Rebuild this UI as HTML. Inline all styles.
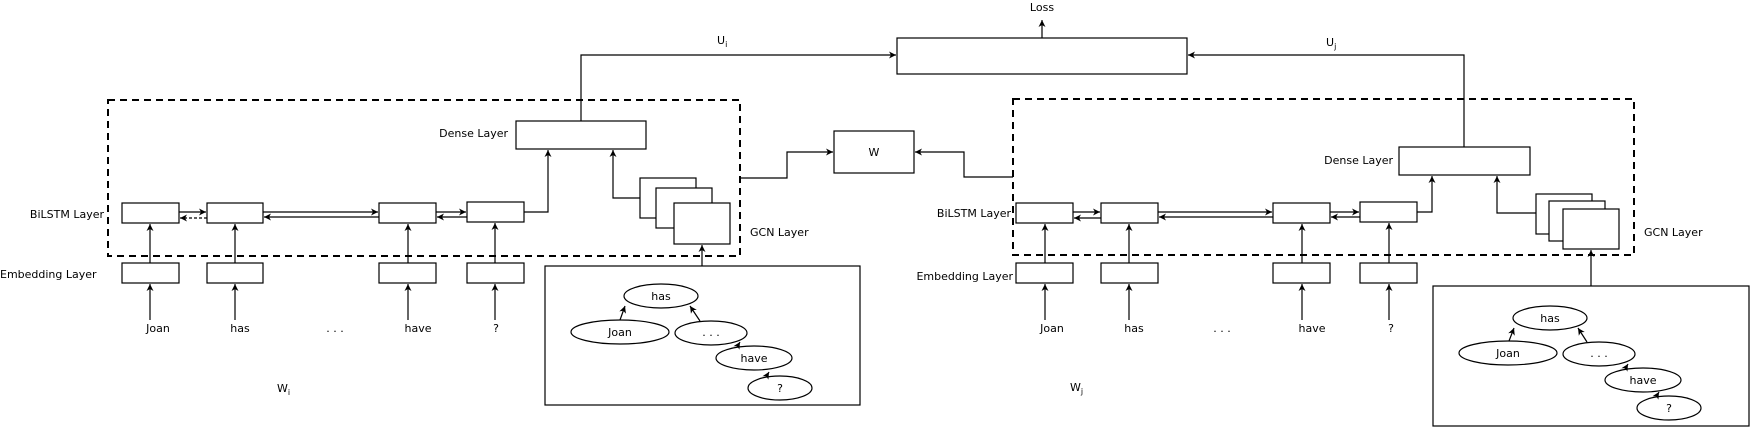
<!DOCTYPE html>
<html><head><meta charset="utf-8"><style>
html,body{margin:0;padding:0;background:#fff;}
svg{display:block;}
text{font-family:"DejaVu Sans","Liberation Sans",sans-serif;font-size:11px;fill:#000;}
</style></head><body>
<svg width="1752" height="429" viewBox="0 0 1752 429" xmlns="http://www.w3.org/2000/svg">
<defs>
<marker id="a" markerWidth="8" markerHeight="8" refX="7" refY="4" orient="auto" markerUnits="userSpaceOnUse">
<path d="M0,0.5 L7,4 L0,7.5 L2,4 Z" fill="#000"/></marker>
</defs>
<g fill="none" stroke="#000" stroke-width="1.2">
<!-- Loss -->
<rect x="897" y="38" width="290" height="36"/>
<line x1="1042" y1="38" x2="1042" y2="20" marker-end="url(#a)"/>
<polyline points="581,121 581,55 896,55" marker-end="url(#a)"/>
<polyline points="1464,147 1464,55 1188,55" marker-end="url(#a)"/>
<!-- W -->
<rect x="834" y="131" width="80" height="42"/>
<polyline points="740,178 787,178 787,152 833,152" marker-end="url(#a)"/>
<polyline points="1013,177 964,177 964,152 915,152" marker-end="url(#a)"/>
<!-- dashed boxes -->
<rect x="108" y="100" width="632" height="156" stroke-width="2" stroke-dasharray="7,5"/>
<rect x="1013" y="99" width="621" height="156" stroke-width="2" stroke-dasharray="7,5"/>

<!-- LEFT -->
<rect x="516" y="121" width="130" height="28"/>
<rect x="122" y="203" width="57" height="20"/>
<rect x="207" y="203" width="56" height="20"/>
<rect x="379" y="203" width="57" height="20"/>
<rect x="467" y="202" width="57" height="20"/>
<rect x="122" y="263" width="57" height="20"/>
<rect x="207" y="263" width="56" height="20"/>
<rect x="379" y="263" width="57" height="20"/>
<rect x="467" y="263" width="57" height="20"/>
<line x1="150" y1="320" x2="150" y2="284" marker-end="url(#a)"/>
<line x1="235" y1="320" x2="235" y2="284" marker-end="url(#a)"/>
<line x1="408" y1="320" x2="408" y2="284" marker-end="url(#a)"/>
<line x1="495" y1="320" x2="495" y2="284" marker-end="url(#a)"/>
<line x1="150" y1="263" x2="150" y2="224" marker-end="url(#a)"/>
<line x1="235" y1="263" x2="235" y2="224" marker-end="url(#a)"/>
<line x1="408" y1="263" x2="408" y2="224" marker-end="url(#a)"/>
<line x1="495" y1="263" x2="495" y2="223" marker-end="url(#a)"/>
<line x1="179" y1="212" x2="206" y2="212" marker-end="url(#a)"/>
<line x1="207" y1="218" x2="180" y2="218" stroke-dasharray="3,2" marker-end="url(#a)"/>
<line x1="263" y1="212" x2="378" y2="212" marker-end="url(#a)"/>
<line x1="379" y1="217" x2="264" y2="217" marker-end="url(#a)"/>
<line x1="436" y1="212" x2="466" y2="212" marker-end="url(#a)"/>
<line x1="467" y1="217" x2="437" y2="217" marker-end="url(#a)"/>
<polyline points="524,212 548,212 548,150" marker-end="url(#a)"/>
<polyline points="640,198 613,198 613,150" marker-end="url(#a)"/>
<rect x="640" y="178" width="56" height="40" fill="#fff"/>
<rect x="656" y="188" width="56" height="40" fill="#fff"/>
<rect x="674" y="203" width="56" height="41" fill="#fff"/>
<rect x="545" y="266" width="315" height="139"/>
<line x1="702" y1="266" x2="702" y2="245" marker-end="url(#a)"/>
<ellipse cx="661" cy="296" rx="37" ry="12"/>
<ellipse cx="620" cy="332" rx="49" ry="12"/>
<ellipse cx="711" cy="333" rx="36" ry="12"/>
<ellipse cx="754" cy="358" rx="38" ry="12"/>
<ellipse cx="780" cy="388" rx="32" ry="12"/>
<line x1="620" y1="320" x2="625" y2="306" marker-end="url(#a)"/>
<line x1="700" y1="321" x2="690" y2="306" marker-end="url(#a)"/>
<line x1="737" y1="347" x2="740" y2="342" marker-end="url(#a)"/>
<line x1="766" y1="377" x2="769" y2="372" marker-end="url(#a)"/>

<!-- RIGHT -->
<rect x="1399" y="147" width="131" height="28"/>
<rect x="1016" y="203" width="57" height="20"/>
<rect x="1101" y="203" width="57" height="20"/>
<rect x="1273" y="203" width="57" height="20"/>
<rect x="1360" y="202" width="57" height="20"/>
<rect x="1016" y="263" width="57" height="20"/>
<rect x="1101" y="263" width="57" height="20"/>
<rect x="1273" y="263" width="57" height="20"/>
<rect x="1360" y="263" width="57" height="20"/>
<line x1="1045" y1="320" x2="1045" y2="284" marker-end="url(#a)"/>
<line x1="1129" y1="320" x2="1129" y2="284" marker-end="url(#a)"/>
<line x1="1302" y1="320" x2="1302" y2="284" marker-end="url(#a)"/>
<line x1="1389" y1="320" x2="1389" y2="284" marker-end="url(#a)"/>
<line x1="1045" y1="263" x2="1045" y2="224" marker-end="url(#a)"/>
<line x1="1129" y1="263" x2="1129" y2="224" marker-end="url(#a)"/>
<line x1="1302" y1="263" x2="1302" y2="224" marker-end="url(#a)"/>
<line x1="1389" y1="263" x2="1389" y2="223" marker-end="url(#a)"/>
<line x1="1073" y1="212" x2="1100" y2="212" marker-end="url(#a)"/>
<line x1="1101" y1="218" x2="1074" y2="218" marker-end="url(#a)"/>
<line x1="1158" y1="212" x2="1272" y2="212" marker-end="url(#a)"/>
<line x1="1273" y1="217" x2="1159" y2="217" marker-end="url(#a)"/>
<line x1="1330" y1="212" x2="1359" y2="212" marker-end="url(#a)"/>
<line x1="1360" y1="217" x2="1331" y2="217" marker-end="url(#a)"/>
<polyline points="1417,212 1432,212 1432,176" marker-end="url(#a)"/>
<polyline points="1536,213 1497,213 1497,176" marker-end="url(#a)"/>
<rect x="1536" y="194" width="56" height="40" fill="#fff"/>
<rect x="1549" y="201" width="56" height="40" fill="#fff"/>
<rect x="1563" y="209" width="56" height="40" fill="#fff"/>
<rect x="1433" y="286" width="316" height="140"/>
<line x1="1591" y1="286" x2="1591" y2="250" marker-end="url(#a)"/>
<ellipse cx="1550" cy="318" rx="37" ry="12"/>
<ellipse cx="1508" cy="353" rx="49" ry="12"/>
<ellipse cx="1599" cy="354" rx="36" ry="12"/>
<ellipse cx="1643" cy="380" rx="38" ry="12"/>
<ellipse cx="1669" cy="408" rx="32" ry="12"/>
<line x1="1509" y1="341" x2="1514" y2="328" marker-end="url(#a)"/>
<line x1="1587" y1="342" x2="1578" y2="328" marker-end="url(#a)"/>
<line x1="1625" y1="369" x2="1628" y2="364" marker-end="url(#a)"/>
<line x1="1656" y1="397" x2="1659" y2="392" marker-end="url(#a)"/>
</g>
<g>
<text x="1042" y="11" text-anchor="middle">Loss</text>
<text x="717" y="44">U<tspan font-size="8" dy="3">i</tspan></text>
<text x="1326" y="46">U<tspan font-size="8" dy="3">j</tspan></text>
<text x="874" y="156" text-anchor="middle">W</text>
<text x="508" y="137" text-anchor="end">Dense Layer</text>
<text x="1393" y="164" text-anchor="end">Dense Layer</text>
<text x="104" y="218" text-anchor="end">BiLSTM Layer</text>
<text x="1011" y="217" text-anchor="end">BiLSTM Layer</text>
<text x="0" y="278">Embedding Layer</text>
<text x="1013" y="280" text-anchor="end">Embedding Layer</text>
<text x="750" y="236">GCN Layer</text>
<text x="1644" y="236">GCN Layer</text>
<text x="158" y="332" text-anchor="middle">Joan</text>
<text x="240" y="332" text-anchor="middle">has</text>
<text x="335" y="332" text-anchor="middle">. . .</text>
<text x="418" y="332" text-anchor="middle">have</text>
<text x="496" y="332" text-anchor="middle">?</text>
<text x="1052" y="332" text-anchor="middle">Joan</text>
<text x="1134" y="332" text-anchor="middle">has</text>
<text x="1222" y="332" text-anchor="middle" font-size="8">. . .</text>
<text x="1312" y="332" text-anchor="middle">have</text>
<text x="1391" y="332" text-anchor="middle">?</text>
<text x="277" y="392">W<tspan font-size="8" dy="3">i</tspan></text>
<text x="1070" y="391">W<tspan font-size="8" dy="3">j</tspan></text>
<text x="661" y="300" text-anchor="middle">has</text>
<text x="620" y="336" text-anchor="middle">Joan</text>
<text x="711" y="336" text-anchor="middle">. . .</text>
<text x="754" y="362" text-anchor="middle">have</text>
<text x="780" y="392" text-anchor="middle">?</text>
<text x="1550" y="322" text-anchor="middle">has</text>
<text x="1508" y="357" text-anchor="middle">Joan</text>
<text x="1599" y="357" text-anchor="middle">. . .</text>
<text x="1643" y="384" text-anchor="middle">have</text>
<text x="1669" y="412" text-anchor="middle">?</text>
</g>
</svg>
</body></html>
